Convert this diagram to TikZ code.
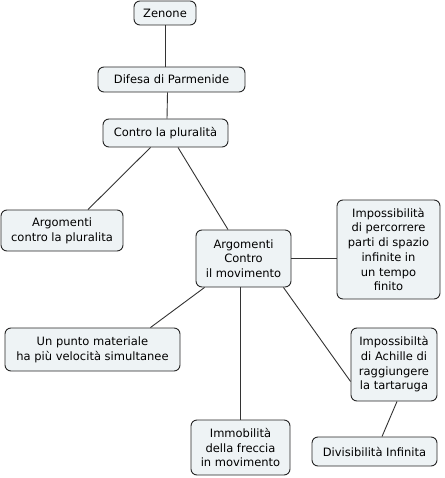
\documentclass[tikz,border=0pt]{standalone}
\usepackage{fontspec}
\setmainfont{DejaVu Sans}
\begin{document}
\begin{tikzpicture}[x=1pt,y=-1pt,
  concept/.style={draw=black!85, fill=boxfill, rounded corners=6pt, line width=0.9pt,
    align=center, inner sep=0pt, font=\fontsize{11.5}{14.7}\selectfont},
  link/.style={draw=black!80, line width=0.9pt}]
\definecolor{boxfill}{HTML}{EEF3F5}
\useasboundingbox (0,0) rectangle (444,478);
\node[concept, minimum width=62, minimum height=24] (zen) at (165,13) {Zenone};
\node[concept, minimum width=147, minimum height=25] (dif) at (171.5,79.5) {Difesa di Parmenide};
\node[concept, minimum width=125, minimum height=28] (plu) at (165.5,133) {Contro la pluralità};
\node[concept, minimum width=122, minimum height=41] (acp) at (62,230.5) {Argomenti\\contro la pluralita};
\node[concept, minimum width=95, minimum height=57] (mov) at (243.5,258.5) {Argomenti\\Contro\\il movimento};
\node[concept, minimum width=103, minimum height=99] (imp) at (388.5,249.5) {Impossibilità\\di percorrere\\parti di spazio\\infinite in\\un tempo\\finito};
\node[concept, minimum width=175, minimum height=43] (pun) at (92.5,349.5) {Un punto materiale\\ha più velocità simultanee};
\node[concept, minimum width=86, minimum height=73] (ach) at (394,364.5) {Impossibiltà\\di Achille di\\raggiungere\\la tartaruga};
\node[concept, minimum width=99, minimum height=55] (fre) at (240.5,447.5) {Immobilità\\della freccia\\in movimento};
\node[concept, minimum width=125, minimum height=29] (div) at (374.5,451.5) {Divisibilità Infinita};
\draw[link] (zen.south) -- (zen.south |- dif.north);
\draw[link] ([xshift=-4pt]dif.south) -- ([xshift=1.5pt]plu.north);
\draw[link] ([xshift=-15pt]plu.south) -- ([xshift=26pt]acp.north);
\draw[link] ([xshift=12.5pt]plu.south) -- ([xshift=-15.5pt]mov.north);
\draw[link] (mov.east) -- (mov.east -| imp.west);
\draw[link] ([xshift=9pt]mov.south west) -- ([xshift=-30pt]pun.north east);
\draw[link] ([xshift=-3.5pt]mov.south) -- ([xshift=-0.5pt]fre.north);
\draw[link] ([xshift=-8pt]mov.south east) -- ([yshift=-17pt]ach.west);
\draw[link] ([xshift=3pt]ach.south) -- ([xshift=7.5pt]div.north);
\end{tikzpicture}
\end{document}
